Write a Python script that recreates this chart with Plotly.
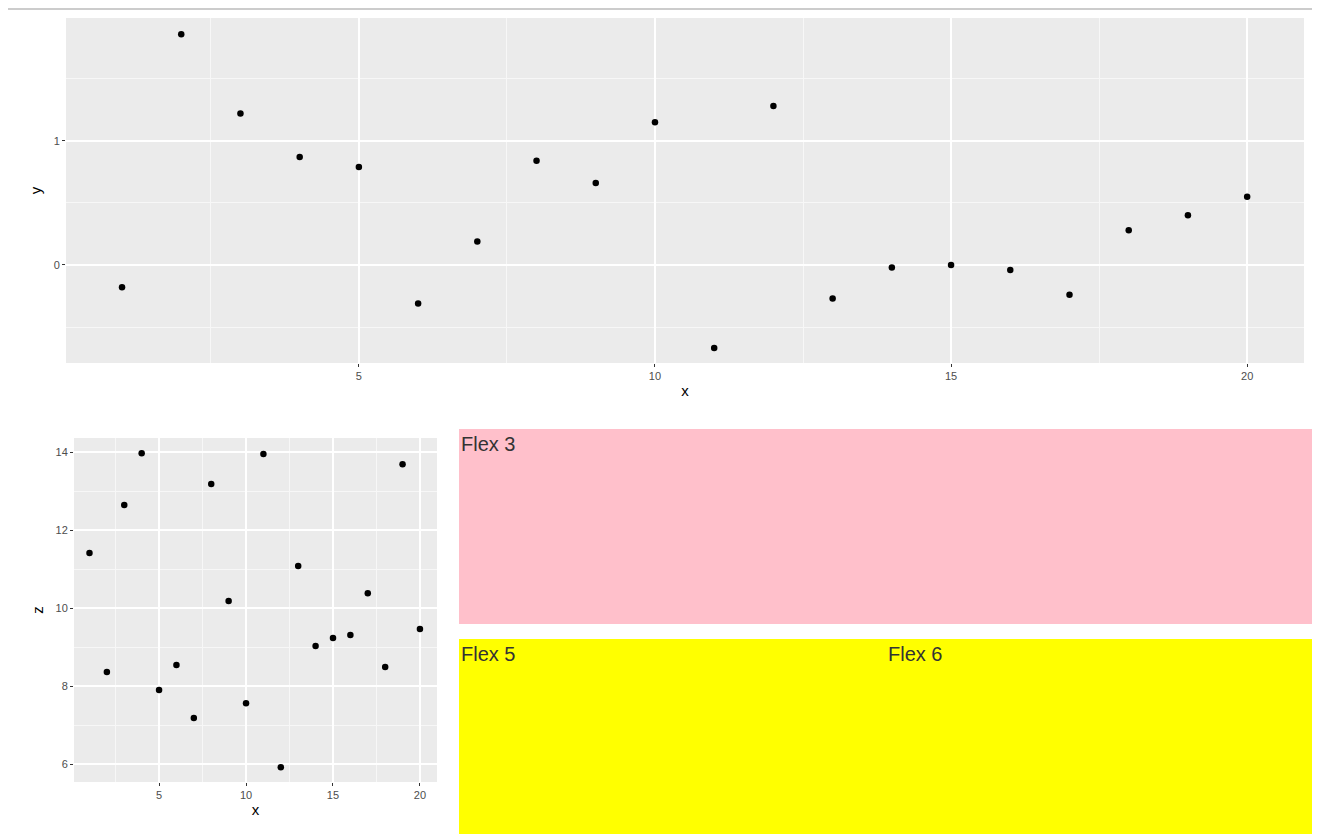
import plotly.graph_objects as go

x = list(range(1, 21))
y = [-0.18, 1.86, 1.22, 0.87, 0.79, -0.31, 0.19, 0.84, 0.66, 1.15,
     -0.67, 1.28, -0.27, -0.02, 0.00, -0.04, -0.24, 0.28, 0.40, 0.55]
z = [11.41, 8.36, 12.64, 13.97, 7.90, 8.54, 7.18, 13.18, 10.18, 7.56,
     13.95, 5.92, 11.08, 9.03, 9.23, 9.31, 10.38, 8.49, 13.69, 9.46]

W, H = 1320, 837
def px(v): return v / W
def py(v): return 1 - v / H

fig = go.Figure()
mk = dict(color="black", size=6.5)
fig.add_trace(go.Scatter(x=x, y=y, mode="markers", marker=mk, xaxis="x", yaxis="y", hoverinfo="skip"))
fig.add_trace(go.Scatter(x=x, y=z, mode="markers", marker=mk, xaxis="x2", yaxis="y2", hoverinfo="skip"))

tickfont = dict(family="Liberation Sans, Arial", size=11, color="#4d4d4d")
titlefont = dict(family="Liberation Sans, Arial", size=15, color="black")
def ax(domain, rng, dtick, minor, title, anchor, standoff):
    return dict(domain=domain, range=rng, tick0=0, dtick=dtick, showgrid=True,
                gridcolor="white", gridwidth=1.6, zeroline=False, showline=False,
                ticks="outside", ticklen=3, tickcolor="#333333", tickfont=tickfont,
                minor=dict(dtick=minor, tick0=0, showgrid=True, gridcolor="#f7f7f7", gridwidth=0.8, ticks=""),
                title=dict(text=title, font=titlefont, standoff=standoff), anchor=anchor)

fig.update_layout(
    width=W, height=H, margin=dict(l=0, r=0, t=0, b=0),
    paper_bgcolor="white", plot_bgcolor="#ebebeb", showlegend=False,
    xaxis=ax([px(58), px(1296)], [0.054, 20.96], 5, 2.5, "x", "y", 4),
    yaxis=ax([py(355), py(10)], [-0.79, 1.99], 1, 0.5, "y", "x", 8),
    xaxis2=ax([px(66), px(429)], [0.11, 20.98], 5, 2.5, "x", "y2", 4),
    yaxis2=ax([py(774), py(430)], [5.54, 14.36], 2, 1, "z", "x2", 8),
)

fig.add_shape(type="rect", xref="paper", yref="paper", x0=px(451), x1=px(1305),
              y0=py(616), y1=py(421), fillcolor="pink", line_width=0)
fig.add_shape(type="rect", xref="paper", yref="paper", x0=px(451), x1=px(1305),
              y0=py(826), y1=py(631), fillcolor="yellow", line_width=0)
fig.add_shape(type="line", xref="paper", yref="paper", x0=0, x1=1, y0=py(1), y1=py(1),
              line=dict(color="#bbbbbb", width=1.5))

labfont = dict(family="Liberation Sans, Arial", size=20, color="#333333")
for t, lx, ly in [("Flex 3", 451, 423), ("Flex 5", 451, 633), ("Flex 6", 878, 633)]:
    fig.add_annotation(text=t, xref="paper", yref="paper", x=px(lx), y=py(ly),
                       xanchor="left", yanchor="top", showarrow=False, font=labfont)

fig.write_html("out.html")
